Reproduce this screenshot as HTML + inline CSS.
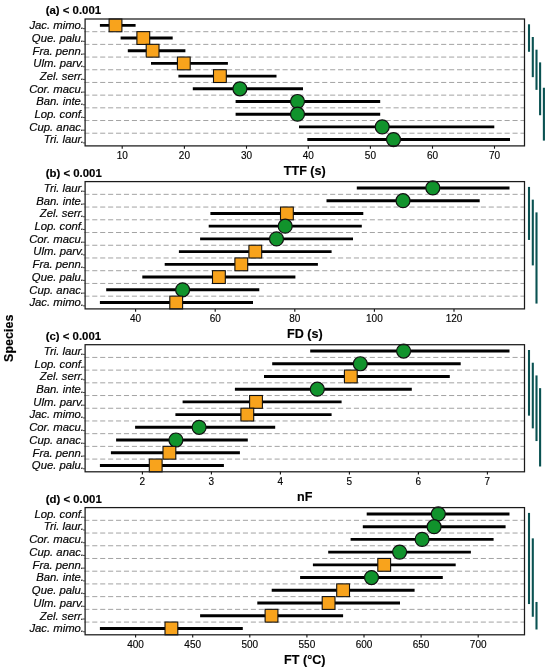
<!DOCTYPE html><html><head><meta charset="utf-8"><style>html,body{margin:0;padding:0;background:#fff}svg{display:block;will-change:transform}text{font-family:"Liberation Sans",sans-serif;fill:#000}</style></head><body>
<svg width="550" height="671" viewBox="0 0 550 671">
<rect width="550" height="671" fill="#fff"/>
<line x1="84.3" y1="31.69" x2="524.5" y2="31.69" stroke="#a3a3a3" stroke-width="1" stroke-dasharray="5.1 2.83"/>
<line x1="84.3" y1="44.38" x2="524.5" y2="44.38" stroke="#a3a3a3" stroke-width="1" stroke-dasharray="5.1 2.83"/>
<line x1="84.3" y1="57.07" x2="524.5" y2="57.07" stroke="#a3a3a3" stroke-width="1" stroke-dasharray="5.1 2.83"/>
<line x1="84.3" y1="69.76" x2="524.5" y2="69.76" stroke="#a3a3a3" stroke-width="1" stroke-dasharray="5.1 2.83"/>
<line x1="84.3" y1="82.45" x2="524.5" y2="82.45" stroke="#a3a3a3" stroke-width="1" stroke-dasharray="5.1 2.83"/>
<line x1="84.3" y1="95.14" x2="524.5" y2="95.14" stroke="#a3a3a3" stroke-width="1" stroke-dasharray="5.1 2.83"/>
<line x1="84.3" y1="107.83" x2="524.5" y2="107.83" stroke="#a3a3a3" stroke-width="1" stroke-dasharray="5.1 2.83"/>
<line x1="84.3" y1="120.52" x2="524.5" y2="120.52" stroke="#a3a3a3" stroke-width="1" stroke-dasharray="5.1 2.83"/>
<line x1="84.3" y1="133.21" x2="524.5" y2="133.21" stroke="#a3a3a3" stroke-width="1" stroke-dasharray="5.1 2.83"/>
<line x1="99.9" y1="25.34" x2="135.6" y2="25.34" stroke="#000" stroke-width="2.9"/>
<line x1="120.6" y1="38.04" x2="172.7" y2="38.04" stroke="#000" stroke-width="2.9"/>
<line x1="127.8" y1="50.73" x2="185.4" y2="50.73" stroke="#000" stroke-width="2.9"/>
<line x1="151" y1="63.42" x2="227.9" y2="63.42" stroke="#000" stroke-width="2.9"/>
<line x1="178.4" y1="76.11" x2="276.5" y2="76.11" stroke="#000" stroke-width="2.9"/>
<line x1="192.8" y1="88.8" x2="303" y2="88.8" stroke="#000" stroke-width="2.9"/>
<line x1="235.6" y1="101.49" x2="380.2" y2="101.49" stroke="#000" stroke-width="2.9"/>
<line x1="235.6" y1="114.18" x2="380.2" y2="114.18" stroke="#000" stroke-width="2.9"/>
<line x1="299" y1="126.87" x2="494.3" y2="126.87" stroke="#000" stroke-width="2.9"/>
<line x1="307.3" y1="139.56" x2="510" y2="139.56" stroke="#000" stroke-width="2.9"/>
<rect x="109.1" y="18.95" width="12.8" height="12.8" fill="#f8a31c" stroke="#111" stroke-width="1.1"/>
<rect x="136.9" y="31.64" width="12.8" height="12.8" fill="#f8a31c" stroke="#111" stroke-width="1.1"/>
<rect x="146.2" y="44.33" width="12.8" height="12.8" fill="#f8a31c" stroke="#111" stroke-width="1.1"/>
<rect x="177.4" y="57.02" width="12.8" height="12.8" fill="#f8a31c" stroke="#111" stroke-width="1.1"/>
<rect x="213.5" y="69.7" width="12.8" height="12.8" fill="#f8a31c" stroke="#111" stroke-width="1.1"/>
<circle cx="239.9" cy="88.8" r="7" fill="#11932c" stroke="#111" stroke-width="1.2"/>
<circle cx="297.5" cy="101.49" r="7" fill="#11932c" stroke="#111" stroke-width="1.2"/>
<circle cx="297.5" cy="114.18" r="7" fill="#11932c" stroke="#111" stroke-width="1.2"/>
<circle cx="382.2" cy="126.87" r="7" fill="#11932c" stroke="#111" stroke-width="1.2"/>
<circle cx="393.5" cy="139.56" r="7" fill="#11932c" stroke="#111" stroke-width="1.2"/>
<rect x="85.1" y="19" width="439.4" height="126.9" fill="none" stroke="#1a1a1a" stroke-width="1.25"/>
<line x1="122.2" y1="145.9" x2="122.2" y2="148.7" stroke="#111" stroke-width="1.1"/>
<text x="122.2" y="159" font-size="10" text-anchor="middle" fill="#111" stroke="#111" stroke-width="0.15">10</text>
<line x1="184.4" y1="145.9" x2="184.4" y2="148.7" stroke="#111" stroke-width="1.1"/>
<text x="184.4" y="159" font-size="10" text-anchor="middle" fill="#111" stroke="#111" stroke-width="0.15">20</text>
<line x1="246.5" y1="145.9" x2="246.5" y2="148.7" stroke="#111" stroke-width="1.1"/>
<text x="246.5" y="159" font-size="10" text-anchor="middle" fill="#111" stroke="#111" stroke-width="0.15">30</text>
<line x1="308.3" y1="145.9" x2="308.3" y2="148.7" stroke="#111" stroke-width="1.1"/>
<text x="308.3" y="159" font-size="10" text-anchor="middle" fill="#111" stroke="#111" stroke-width="0.15">40</text>
<line x1="370.4" y1="145.9" x2="370.4" y2="148.7" stroke="#111" stroke-width="1.1"/>
<text x="370.4" y="159" font-size="10" text-anchor="middle" fill="#111" stroke="#111" stroke-width="0.15">50</text>
<line x1="432.5" y1="145.9" x2="432.5" y2="148.7" stroke="#111" stroke-width="1.1"/>
<text x="432.5" y="159" font-size="10" text-anchor="middle" fill="#111" stroke="#111" stroke-width="0.15">60</text>
<line x1="494.5" y1="145.9" x2="494.5" y2="148.7" stroke="#111" stroke-width="1.1"/>
<text x="494.5" y="159" font-size="10" text-anchor="middle" fill="#111" stroke="#111" stroke-width="0.15">70</text>
<text x="84.0" y="29.14" font-size="11.3" font-style="italic" text-anchor="end" fill="#111" stroke="#111" stroke-width="0.2">Jac. mimo.</text>
<line x1="83.0" y1="28.64" x2="85" y2="28.64" stroke="#333" stroke-width="0.9"/>
<text x="84.0" y="41.84" font-size="11.3" font-style="italic" text-anchor="end" fill="#111" stroke="#111" stroke-width="0.2">Que. palu.</text>
<line x1="83.0" y1="41.34" x2="85" y2="41.34" stroke="#333" stroke-width="0.9"/>
<text x="84.0" y="54.52" font-size="11.3" font-style="italic" text-anchor="end" fill="#111" stroke="#111" stroke-width="0.2">Fra. penn.</text>
<line x1="83.0" y1="54.02" x2="85" y2="54.02" stroke="#333" stroke-width="0.9"/>
<text x="84.0" y="67.22" font-size="11.3" font-style="italic" text-anchor="end" fill="#111" stroke="#111" stroke-width="0.2">Ulm. parv.</text>
<line x1="83.0" y1="66.72" x2="85" y2="66.72" stroke="#333" stroke-width="0.9"/>
<text x="84.0" y="79.91" font-size="11.3" font-style="italic" text-anchor="end" fill="#111" stroke="#111" stroke-width="0.2">Zel. serr.</text>
<line x1="83.0" y1="79.41" x2="85" y2="79.41" stroke="#333" stroke-width="0.9"/>
<text x="84.0" y="92.59" font-size="11.3" font-style="italic" text-anchor="end" fill="#111" stroke="#111" stroke-width="0.2">Cor. macu.</text>
<line x1="83.0" y1="92.09" x2="85" y2="92.09" stroke="#333" stroke-width="0.9"/>
<text x="84.0" y="105.29" font-size="11.3" font-style="italic" text-anchor="end" fill="#111" stroke="#111" stroke-width="0.2">Ban. inte.</text>
<line x1="83.0" y1="104.79" x2="85" y2="104.79" stroke="#333" stroke-width="0.9"/>
<text x="84.0" y="117.98" font-size="11.3" font-style="italic" text-anchor="end" fill="#111" stroke="#111" stroke-width="0.2">Lop. conf.</text>
<line x1="83.0" y1="117.48" x2="85" y2="117.48" stroke="#333" stroke-width="0.9"/>
<text x="84.0" y="130.67" font-size="11.3" font-style="italic" text-anchor="end" fill="#111" stroke="#111" stroke-width="0.2">Cup. anac.</text>
<line x1="83.0" y1="130.17" x2="85" y2="130.17" stroke="#333" stroke-width="0.9"/>
<text x="84.0" y="143.36" font-size="11.3" font-style="italic" text-anchor="end" fill="#111" stroke="#111" stroke-width="0.2">Tri. laur.</text>
<line x1="83.0" y1="142.86" x2="85" y2="142.86" stroke="#333" stroke-width="0.9"/>
<text x="45.7" y="14.3" font-size="11.4" font-weight="bold" stroke="#000" stroke-width="0.15">(a) &lt; 0.001</text>
<text x="304.8" y="175.1" font-size="12.6" font-weight="bold" text-anchor="middle" stroke="#000" stroke-width="0.15">TTF (s)</text>
<line x1="529" y1="25.34" x2="529" y2="50.73" stroke="#0a5252" stroke-width="2.1" stroke-linecap="square"/>
<line x1="532.8" y1="38.04" x2="532.8" y2="76.11" stroke="#0a5252" stroke-width="2.1" stroke-linecap="square"/>
<line x1="536.5" y1="50.73" x2="536.5" y2="88.8" stroke="#0a5252" stroke-width="2.1" stroke-linecap="square"/>
<line x1="540.1" y1="63.42" x2="540.1" y2="114.18" stroke="#0a5252" stroke-width="2.1" stroke-linecap="square"/>
<line x1="543.9" y1="88.8" x2="543.9" y2="139.56" stroke="#0a5252" stroke-width="2.1" stroke-linecap="square"/>
<line x1="84.3" y1="194.33" x2="524.5" y2="194.33" stroke="#a3a3a3" stroke-width="1" stroke-dasharray="5.1 2.83"/>
<line x1="84.3" y1="207.06" x2="524.5" y2="207.06" stroke="#a3a3a3" stroke-width="1" stroke-dasharray="5.1 2.83"/>
<line x1="84.3" y1="219.79" x2="524.5" y2="219.79" stroke="#a3a3a3" stroke-width="1" stroke-dasharray="5.1 2.83"/>
<line x1="84.3" y1="232.52" x2="524.5" y2="232.52" stroke="#a3a3a3" stroke-width="1" stroke-dasharray="5.1 2.83"/>
<line x1="84.3" y1="245.25" x2="524.5" y2="245.25" stroke="#a3a3a3" stroke-width="1" stroke-dasharray="5.1 2.83"/>
<line x1="84.3" y1="257.98" x2="524.5" y2="257.98" stroke="#a3a3a3" stroke-width="1" stroke-dasharray="5.1 2.83"/>
<line x1="84.3" y1="270.71" x2="524.5" y2="270.71" stroke="#a3a3a3" stroke-width="1" stroke-dasharray="5.1 2.83"/>
<line x1="84.3" y1="283.44" x2="524.5" y2="283.44" stroke="#a3a3a3" stroke-width="1" stroke-dasharray="5.1 2.83"/>
<line x1="84.3" y1="296.17" x2="524.5" y2="296.17" stroke="#a3a3a3" stroke-width="1" stroke-dasharray="5.1 2.83"/>
<line x1="356.8" y1="187.97" x2="509.5" y2="187.97" stroke="#000" stroke-width="2.9"/>
<line x1="326.5" y1="200.69" x2="479.7" y2="200.69" stroke="#000" stroke-width="2.9"/>
<line x1="210.4" y1="213.43" x2="363.3" y2="213.43" stroke="#000" stroke-width="2.9"/>
<line x1="208.7" y1="226.16" x2="361.8" y2="226.16" stroke="#000" stroke-width="2.9"/>
<line x1="200.1" y1="238.88" x2="353" y2="238.88" stroke="#000" stroke-width="2.9"/>
<line x1="178.9" y1="251.62" x2="331.6" y2="251.62" stroke="#000" stroke-width="2.9"/>
<line x1="164.7" y1="264.35" x2="317.9" y2="264.35" stroke="#000" stroke-width="2.9"/>
<line x1="142.3" y1="277.07" x2="295.4" y2="277.07" stroke="#000" stroke-width="2.9"/>
<line x1="106.2" y1="289.81" x2="259.3" y2="289.81" stroke="#000" stroke-width="2.9"/>
<line x1="99.9" y1="302.53" x2="253" y2="302.53" stroke="#000" stroke-width="2.9"/>
<circle cx="432.8" cy="187.97" r="7" fill="#11932c" stroke="#111" stroke-width="1.2"/>
<circle cx="403" cy="200.69" r="7" fill="#11932c" stroke="#111" stroke-width="1.2"/>
<rect x="280.5" y="207.03" width="12.8" height="12.8" fill="#f8a31c" stroke="#111" stroke-width="1.1"/>
<circle cx="285.2" cy="226.16" r="7" fill="#11932c" stroke="#111" stroke-width="1.2"/>
<circle cx="276.5" cy="238.88" r="7" fill="#11932c" stroke="#111" stroke-width="1.2"/>
<rect x="248.9" y="245.22" width="12.8" height="12.8" fill="#f8a31c" stroke="#111" stroke-width="1.1"/>
<rect x="234.9" y="257.95" width="12.8" height="12.8" fill="#f8a31c" stroke="#111" stroke-width="1.1"/>
<rect x="212.5" y="270.68" width="12.8" height="12.8" fill="#f8a31c" stroke="#111" stroke-width="1.1"/>
<circle cx="182.6" cy="289.81" r="7" fill="#11932c" stroke="#111" stroke-width="1.2"/>
<rect x="169.8" y="296.13" width="12.8" height="12.8" fill="#f8a31c" stroke="#111" stroke-width="1.1"/>
<rect x="85.1" y="181.6" width="439.4" height="127.3" fill="none" stroke="#1a1a1a" stroke-width="1.25"/>
<line x1="135.6" y1="308.9" x2="135.6" y2="311.7" stroke="#111" stroke-width="1.1"/>
<text x="135.6" y="322" font-size="10" text-anchor="middle" fill="#111" stroke="#111" stroke-width="0.15">40</text>
<line x1="215.2" y1="308.9" x2="215.2" y2="311.7" stroke="#111" stroke-width="1.1"/>
<text x="215.2" y="322" font-size="10" text-anchor="middle" fill="#111" stroke="#111" stroke-width="0.15">60</text>
<line x1="294.8" y1="308.9" x2="294.8" y2="311.7" stroke="#111" stroke-width="1.1"/>
<text x="294.8" y="322" font-size="10" text-anchor="middle" fill="#111" stroke="#111" stroke-width="0.15">80</text>
<line x1="374.4" y1="308.9" x2="374.4" y2="311.7" stroke="#111" stroke-width="1.1"/>
<text x="374.4" y="322" font-size="10" text-anchor="middle" fill="#111" stroke="#111" stroke-width="0.15">100</text>
<line x1="454" y1="308.9" x2="454" y2="311.7" stroke="#111" stroke-width="1.1"/>
<text x="454" y="322" font-size="10" text-anchor="middle" fill="#111" stroke="#111" stroke-width="0.15">120</text>
<text x="84.0" y="191.77" font-size="11.3" font-style="italic" text-anchor="end" fill="#111" stroke="#111" stroke-width="0.2">Tri. laur.</text>
<line x1="83.0" y1="191.27" x2="85" y2="191.27" stroke="#333" stroke-width="0.9"/>
<text x="84.0" y="204.5" font-size="11.3" font-style="italic" text-anchor="end" fill="#111" stroke="#111" stroke-width="0.2">Ban. inte.</text>
<line x1="83.0" y1="204" x2="85" y2="204" stroke="#333" stroke-width="0.9"/>
<text x="84.0" y="217.23" font-size="11.3" font-style="italic" text-anchor="end" fill="#111" stroke="#111" stroke-width="0.2">Zel. serr.</text>
<line x1="83.0" y1="216.73" x2="85" y2="216.73" stroke="#333" stroke-width="0.9"/>
<text x="84.0" y="229.96" font-size="11.3" font-style="italic" text-anchor="end" fill="#111" stroke="#111" stroke-width="0.2">Lop. conf.</text>
<line x1="83.0" y1="229.46" x2="85" y2="229.46" stroke="#333" stroke-width="0.9"/>
<text x="84.0" y="242.69" font-size="11.3" font-style="italic" text-anchor="end" fill="#111" stroke="#111" stroke-width="0.2">Cor. macu.</text>
<line x1="83.0" y1="242.19" x2="85" y2="242.19" stroke="#333" stroke-width="0.9"/>
<text x="84.0" y="255.42" font-size="11.3" font-style="italic" text-anchor="end" fill="#111" stroke="#111" stroke-width="0.2">Ulm. parv.</text>
<line x1="83.0" y1="254.92" x2="85" y2="254.92" stroke="#333" stroke-width="0.9"/>
<text x="84.0" y="268.15" font-size="11.3" font-style="italic" text-anchor="end" fill="#111" stroke="#111" stroke-width="0.2">Fra. penn.</text>
<line x1="83.0" y1="267.65" x2="85" y2="267.65" stroke="#333" stroke-width="0.9"/>
<text x="84.0" y="280.88" font-size="11.3" font-style="italic" text-anchor="end" fill="#111" stroke="#111" stroke-width="0.2">Que. palu.</text>
<line x1="83.0" y1="280.38" x2="85" y2="280.38" stroke="#333" stroke-width="0.9"/>
<text x="84.0" y="293.61" font-size="11.3" font-style="italic" text-anchor="end" fill="#111" stroke="#111" stroke-width="0.2">Cup. anac.</text>
<line x1="83.0" y1="293.11" x2="85" y2="293.11" stroke="#333" stroke-width="0.9"/>
<text x="84.0" y="306.33" font-size="11.3" font-style="italic" text-anchor="end" fill="#111" stroke="#111" stroke-width="0.2">Jac. mimo.</text>
<line x1="83.0" y1="305.83" x2="85" y2="305.83" stroke="#333" stroke-width="0.9"/>
<text x="45.7" y="176.9" font-size="11.4" font-weight="bold" stroke="#000" stroke-width="0.15">(b) &lt; 0.001</text>
<text x="304.8" y="338.1" font-size="12.6" font-weight="bold" text-anchor="middle" stroke="#000" stroke-width="0.15">FD (s)</text>
<line x1="529" y1="187.97" x2="529" y2="238.88" stroke="#0a5252" stroke-width="2.1" stroke-linecap="square"/>
<line x1="532.8" y1="200.69" x2="532.8" y2="264.35" stroke="#0a5252" stroke-width="2.1" stroke-linecap="square"/>
<line x1="536.5" y1="213.43" x2="536.5" y2="302.53" stroke="#0a5252" stroke-width="2.1" stroke-linecap="square"/>
<line x1="84.3" y1="357.41" x2="524.5" y2="357.41" stroke="#a3a3a3" stroke-width="1" stroke-dasharray="5.1 2.83"/>
<line x1="84.3" y1="370.12" x2="524.5" y2="370.12" stroke="#a3a3a3" stroke-width="1" stroke-dasharray="5.1 2.83"/>
<line x1="84.3" y1="382.83" x2="524.5" y2="382.83" stroke="#a3a3a3" stroke-width="1" stroke-dasharray="5.1 2.83"/>
<line x1="84.3" y1="395.54" x2="524.5" y2="395.54" stroke="#a3a3a3" stroke-width="1" stroke-dasharray="5.1 2.83"/>
<line x1="84.3" y1="408.25" x2="524.5" y2="408.25" stroke="#a3a3a3" stroke-width="1" stroke-dasharray="5.1 2.83"/>
<line x1="84.3" y1="420.96" x2="524.5" y2="420.96" stroke="#a3a3a3" stroke-width="1" stroke-dasharray="5.1 2.83"/>
<line x1="84.3" y1="433.67" x2="524.5" y2="433.67" stroke="#a3a3a3" stroke-width="1" stroke-dasharray="5.1 2.83"/>
<line x1="84.3" y1="446.38" x2="524.5" y2="446.38" stroke="#a3a3a3" stroke-width="1" stroke-dasharray="5.1 2.83"/>
<line x1="84.3" y1="459.09" x2="524.5" y2="459.09" stroke="#a3a3a3" stroke-width="1" stroke-dasharray="5.1 2.83"/>
<line x1="310.2" y1="351.06" x2="509.5" y2="351.06" stroke="#000" stroke-width="2.9"/>
<line x1="272.2" y1="363.76" x2="460.7" y2="363.76" stroke="#000" stroke-width="2.9"/>
<line x1="264" y1="376.47" x2="449.8" y2="376.47" stroke="#000" stroke-width="2.9"/>
<line x1="234.9" y1="389.19" x2="411.8" y2="389.19" stroke="#000" stroke-width="2.9"/>
<line x1="182.6" y1="401.89" x2="341.6" y2="401.89" stroke="#000" stroke-width="2.9"/>
<line x1="175.4" y1="414.61" x2="331.6" y2="414.61" stroke="#000" stroke-width="2.9"/>
<line x1="135.1" y1="427.31" x2="275.2" y2="427.31" stroke="#000" stroke-width="2.9"/>
<line x1="116.1" y1="440.02" x2="247.8" y2="440.02" stroke="#000" stroke-width="2.9"/>
<line x1="110.9" y1="452.74" x2="239.9" y2="452.74" stroke="#000" stroke-width="2.9"/>
<line x1="99.9" y1="465.44" x2="223.9" y2="465.44" stroke="#000" stroke-width="2.9"/>
<circle cx="403.6" cy="351.06" r="7" fill="#11932c" stroke="#111" stroke-width="1.2"/>
<circle cx="360.3" cy="363.76" r="7" fill="#11932c" stroke="#111" stroke-width="1.2"/>
<rect x="344.4" y="370.07" width="12.8" height="12.8" fill="#f8a31c" stroke="#111" stroke-width="1.1"/>
<circle cx="317.3" cy="389.19" r="7" fill="#11932c" stroke="#111" stroke-width="1.2"/>
<rect x="249.6" y="395.5" width="12.8" height="12.8" fill="#f8a31c" stroke="#111" stroke-width="1.1"/>
<rect x="240.9" y="408.21" width="12.8" height="12.8" fill="#f8a31c" stroke="#111" stroke-width="1.1"/>
<circle cx="199.1" cy="427.31" r="7" fill="#11932c" stroke="#111" stroke-width="1.2"/>
<circle cx="175.9" cy="440.02" r="7" fill="#11932c" stroke="#111" stroke-width="1.2"/>
<rect x="163" y="446.34" width="12.8" height="12.8" fill="#f8a31c" stroke="#111" stroke-width="1.1"/>
<rect x="149.3" y="459.05" width="12.8" height="12.8" fill="#f8a31c" stroke="#111" stroke-width="1.1"/>
<rect x="85.1" y="344.7" width="439.4" height="127.1" fill="none" stroke="#1a1a1a" stroke-width="1.25"/>
<line x1="142.4" y1="471.8" x2="142.4" y2="474.6" stroke="#111" stroke-width="1.1"/>
<text x="142.4" y="484.9" font-size="10" text-anchor="middle" fill="#111" stroke="#111" stroke-width="0.15">2</text>
<line x1="211.4" y1="471.8" x2="211.4" y2="474.6" stroke="#111" stroke-width="1.1"/>
<text x="211.4" y="484.9" font-size="10" text-anchor="middle" fill="#111" stroke="#111" stroke-width="0.15">3</text>
<line x1="280.4" y1="471.8" x2="280.4" y2="474.6" stroke="#111" stroke-width="1.1"/>
<text x="280.4" y="484.9" font-size="10" text-anchor="middle" fill="#111" stroke="#111" stroke-width="0.15">4</text>
<line x1="349.4" y1="471.8" x2="349.4" y2="474.6" stroke="#111" stroke-width="1.1"/>
<text x="349.4" y="484.9" font-size="10" text-anchor="middle" fill="#111" stroke="#111" stroke-width="0.15">5</text>
<line x1="418.4" y1="471.8" x2="418.4" y2="474.6" stroke="#111" stroke-width="1.1"/>
<text x="418.4" y="484.9" font-size="10" text-anchor="middle" fill="#111" stroke="#111" stroke-width="0.15">6</text>
<line x1="487.4" y1="471.8" x2="487.4" y2="474.6" stroke="#111" stroke-width="1.1"/>
<text x="487.4" y="484.9" font-size="10" text-anchor="middle" fill="#111" stroke="#111" stroke-width="0.15">7</text>
<text x="84.0" y="354.86" font-size="11.3" font-style="italic" text-anchor="end" fill="#111" stroke="#111" stroke-width="0.2">Tri. laur.</text>
<line x1="83.0" y1="354.36" x2="85" y2="354.36" stroke="#333" stroke-width="0.9"/>
<text x="84.0" y="367.56" font-size="11.3" font-style="italic" text-anchor="end" fill="#111" stroke="#111" stroke-width="0.2">Lop. conf.</text>
<line x1="83.0" y1="367.06" x2="85" y2="367.06" stroke="#333" stroke-width="0.9"/>
<text x="84.0" y="380.27" font-size="11.3" font-style="italic" text-anchor="end" fill="#111" stroke="#111" stroke-width="0.2">Zel. serr.</text>
<line x1="83.0" y1="379.77" x2="85" y2="379.77" stroke="#333" stroke-width="0.9"/>
<text x="84.0" y="392.99" font-size="11.3" font-style="italic" text-anchor="end" fill="#111" stroke="#111" stroke-width="0.2">Ban. inte.</text>
<line x1="83.0" y1="392.49" x2="85" y2="392.49" stroke="#333" stroke-width="0.9"/>
<text x="84.0" y="405.69" font-size="11.3" font-style="italic" text-anchor="end" fill="#111" stroke="#111" stroke-width="0.2">Ulm. parv.</text>
<line x1="83.0" y1="405.19" x2="85" y2="405.19" stroke="#333" stroke-width="0.9"/>
<text x="84.0" y="418.41" font-size="11.3" font-style="italic" text-anchor="end" fill="#111" stroke="#111" stroke-width="0.2">Jac. mimo.</text>
<line x1="83.0" y1="417.91" x2="85" y2="417.91" stroke="#333" stroke-width="0.9"/>
<text x="84.0" y="431.12" font-size="11.3" font-style="italic" text-anchor="end" fill="#111" stroke="#111" stroke-width="0.2">Cor. macu.</text>
<line x1="83.0" y1="430.62" x2="85" y2="430.62" stroke="#333" stroke-width="0.9"/>
<text x="84.0" y="443.82" font-size="11.3" font-style="italic" text-anchor="end" fill="#111" stroke="#111" stroke-width="0.2">Cup. anac.</text>
<line x1="83.0" y1="443.32" x2="85" y2="443.32" stroke="#333" stroke-width="0.9"/>
<text x="84.0" y="456.54" font-size="11.3" font-style="italic" text-anchor="end" fill="#111" stroke="#111" stroke-width="0.2">Fra. penn.</text>
<line x1="83.0" y1="456.04" x2="85" y2="456.04" stroke="#333" stroke-width="0.9"/>
<text x="84.0" y="469.25" font-size="11.3" font-style="italic" text-anchor="end" fill="#111" stroke="#111" stroke-width="0.2">Que. palu.</text>
<line x1="83.0" y1="468.75" x2="85" y2="468.75" stroke="#333" stroke-width="0.9"/>
<text x="45.7" y="340" font-size="11.4" font-weight="bold" stroke="#000" stroke-width="0.15">(c) &lt; 0.001</text>
<text x="304.8" y="501" font-size="12.6" font-weight="bold" text-anchor="middle" stroke="#000" stroke-width="0.15">nF</text>
<line x1="529" y1="351.06" x2="529" y2="414.61" stroke="#0a5252" stroke-width="2.1" stroke-linecap="square"/>
<line x1="532.8" y1="363.76" x2="532.8" y2="427.31" stroke="#0a5252" stroke-width="2.1" stroke-linecap="square"/>
<line x1="536.5" y1="376.47" x2="536.5" y2="440.02" stroke="#0a5252" stroke-width="2.1" stroke-linecap="square"/>
<line x1="540.1" y1="389.19" x2="540.1" y2="465.44" stroke="#0a5252" stroke-width="2.1" stroke-linecap="square"/>
<line x1="84.3" y1="520.32" x2="524.5" y2="520.32" stroke="#a3a3a3" stroke-width="1" stroke-dasharray="5.1 2.83"/>
<line x1="84.3" y1="533.04" x2="524.5" y2="533.04" stroke="#a3a3a3" stroke-width="1" stroke-dasharray="5.1 2.83"/>
<line x1="84.3" y1="545.76" x2="524.5" y2="545.76" stroke="#a3a3a3" stroke-width="1" stroke-dasharray="5.1 2.83"/>
<line x1="84.3" y1="558.48" x2="524.5" y2="558.48" stroke="#a3a3a3" stroke-width="1" stroke-dasharray="5.1 2.83"/>
<line x1="84.3" y1="571.2" x2="524.5" y2="571.2" stroke="#a3a3a3" stroke-width="1" stroke-dasharray="5.1 2.83"/>
<line x1="84.3" y1="583.92" x2="524.5" y2="583.92" stroke="#a3a3a3" stroke-width="1" stroke-dasharray="5.1 2.83"/>
<line x1="84.3" y1="596.64" x2="524.5" y2="596.64" stroke="#a3a3a3" stroke-width="1" stroke-dasharray="5.1 2.83"/>
<line x1="84.3" y1="609.36" x2="524.5" y2="609.36" stroke="#a3a3a3" stroke-width="1" stroke-dasharray="5.1 2.83"/>
<line x1="84.3" y1="622.08" x2="524.5" y2="622.08" stroke="#a3a3a3" stroke-width="1" stroke-dasharray="5.1 2.83"/>
<line x1="366.7" y1="513.96" x2="509.5" y2="513.96" stroke="#000" stroke-width="2.9"/>
<line x1="362.8" y1="526.68" x2="505.6" y2="526.68" stroke="#000" stroke-width="2.9"/>
<line x1="350.6" y1="539.4" x2="493.6" y2="539.4" stroke="#000" stroke-width="2.9"/>
<line x1="328.2" y1="552.12" x2="470.9" y2="552.12" stroke="#000" stroke-width="2.9"/>
<line x1="312.9" y1="564.84" x2="455.7" y2="564.84" stroke="#000" stroke-width="2.9"/>
<line x1="300.1" y1="577.56" x2="442.8" y2="577.56" stroke="#000" stroke-width="2.9"/>
<line x1="271.7" y1="590.28" x2="414.6" y2="590.28" stroke="#000" stroke-width="2.9"/>
<line x1="257.3" y1="603" x2="400" y2="603" stroke="#000" stroke-width="2.9"/>
<line x1="200.1" y1="615.72" x2="343.1" y2="615.72" stroke="#000" stroke-width="2.9"/>
<line x1="99.9" y1="628.44" x2="242.8" y2="628.44" stroke="#000" stroke-width="2.9"/>
<circle cx="438.3" cy="513.96" r="7" fill="#11932c" stroke="#111" stroke-width="1.2"/>
<circle cx="434.1" cy="526.68" r="7" fill="#11932c" stroke="#111" stroke-width="1.2"/>
<circle cx="422.1" cy="539.4" r="7" fill="#11932c" stroke="#111" stroke-width="1.2"/>
<circle cx="399.6" cy="552.12" r="7" fill="#11932c" stroke="#111" stroke-width="1.2"/>
<rect x="377.8" y="558.44" width="12.8" height="12.8" fill="#f8a31c" stroke="#111" stroke-width="1.1"/>
<circle cx="371.5" cy="577.56" r="7" fill="#11932c" stroke="#111" stroke-width="1.2"/>
<rect x="336.7" y="583.88" width="12.8" height="12.8" fill="#f8a31c" stroke="#111" stroke-width="1.1"/>
<rect x="322.2" y="596.6" width="12.8" height="12.8" fill="#f8a31c" stroke="#111" stroke-width="1.1"/>
<rect x="265.1" y="609.32" width="12.8" height="12.8" fill="#f8a31c" stroke="#111" stroke-width="1.1"/>
<rect x="165" y="622.04" width="12.8" height="12.8" fill="#f8a31c" stroke="#111" stroke-width="1.1"/>
<rect x="85.1" y="507.6" width="439.4" height="127.2" fill="none" stroke="#1a1a1a" stroke-width="1.25"/>
<line x1="135.6" y1="634.8" x2="135.6" y2="637.6" stroke="#111" stroke-width="1.1"/>
<text x="135.6" y="647.9" font-size="10" text-anchor="middle" fill="#111" stroke="#111" stroke-width="0.15">400</text>
<line x1="192.7" y1="634.8" x2="192.7" y2="637.6" stroke="#111" stroke-width="1.1"/>
<text x="192.7" y="647.9" font-size="10" text-anchor="middle" fill="#111" stroke="#111" stroke-width="0.15">450</text>
<line x1="249.8" y1="634.8" x2="249.8" y2="637.6" stroke="#111" stroke-width="1.1"/>
<text x="249.8" y="647.9" font-size="10" text-anchor="middle" fill="#111" stroke="#111" stroke-width="0.15">500</text>
<line x1="306.9" y1="634.8" x2="306.9" y2="637.6" stroke="#111" stroke-width="1.1"/>
<text x="306.9" y="647.9" font-size="10" text-anchor="middle" fill="#111" stroke="#111" stroke-width="0.15">550</text>
<line x1="364" y1="634.8" x2="364" y2="637.6" stroke="#111" stroke-width="1.1"/>
<text x="364" y="647.9" font-size="10" text-anchor="middle" fill="#111" stroke="#111" stroke-width="0.15">600</text>
<line x1="421.1" y1="634.8" x2="421.1" y2="637.6" stroke="#111" stroke-width="1.1"/>
<text x="421.1" y="647.9" font-size="10" text-anchor="middle" fill="#111" stroke="#111" stroke-width="0.15">650</text>
<line x1="478.2" y1="634.8" x2="478.2" y2="637.6" stroke="#111" stroke-width="1.1"/>
<text x="478.2" y="647.9" font-size="10" text-anchor="middle" fill="#111" stroke="#111" stroke-width="0.15">700</text>
<text x="84.0" y="517.76" font-size="11.3" font-style="italic" text-anchor="end" fill="#111" stroke="#111" stroke-width="0.2">Lop. conf.</text>
<line x1="83.0" y1="517.26" x2="85" y2="517.26" stroke="#333" stroke-width="0.9"/>
<text x="84.0" y="530.48" font-size="11.3" font-style="italic" text-anchor="end" fill="#111" stroke="#111" stroke-width="0.2">Tri. laur.</text>
<line x1="83.0" y1="529.98" x2="85" y2="529.98" stroke="#333" stroke-width="0.9"/>
<text x="84.0" y="543.2" font-size="11.3" font-style="italic" text-anchor="end" fill="#111" stroke="#111" stroke-width="0.2">Cor. macu.</text>
<line x1="83.0" y1="542.7" x2="85" y2="542.7" stroke="#333" stroke-width="0.9"/>
<text x="84.0" y="555.92" font-size="11.3" font-style="italic" text-anchor="end" fill="#111" stroke="#111" stroke-width="0.2">Cup. anac.</text>
<line x1="83.0" y1="555.42" x2="85" y2="555.42" stroke="#333" stroke-width="0.9"/>
<text x="84.0" y="568.64" font-size="11.3" font-style="italic" text-anchor="end" fill="#111" stroke="#111" stroke-width="0.2">Fra. penn.</text>
<line x1="83.0" y1="568.14" x2="85" y2="568.14" stroke="#333" stroke-width="0.9"/>
<text x="84.0" y="581.36" font-size="11.3" font-style="italic" text-anchor="end" fill="#111" stroke="#111" stroke-width="0.2">Ban. inte.</text>
<line x1="83.0" y1="580.86" x2="85" y2="580.86" stroke="#333" stroke-width="0.9"/>
<text x="84.0" y="594.08" font-size="11.3" font-style="italic" text-anchor="end" fill="#111" stroke="#111" stroke-width="0.2">Que. palu.</text>
<line x1="83.0" y1="593.58" x2="85" y2="593.58" stroke="#333" stroke-width="0.9"/>
<text x="84.0" y="606.8" font-size="11.3" font-style="italic" text-anchor="end" fill="#111" stroke="#111" stroke-width="0.2">Ulm. parv.</text>
<line x1="83.0" y1="606.3" x2="85" y2="606.3" stroke="#333" stroke-width="0.9"/>
<text x="84.0" y="619.52" font-size="11.3" font-style="italic" text-anchor="end" fill="#111" stroke="#111" stroke-width="0.2">Zel. serr.</text>
<line x1="83.0" y1="619.02" x2="85" y2="619.02" stroke="#333" stroke-width="0.9"/>
<text x="84.0" y="632.24" font-size="11.3" font-style="italic" text-anchor="end" fill="#111" stroke="#111" stroke-width="0.2">Jac. mimo.</text>
<line x1="83.0" y1="631.74" x2="85" y2="631.74" stroke="#333" stroke-width="0.9"/>
<text x="45.7" y="502.9" font-size="11.4" font-weight="bold" stroke="#000" stroke-width="0.15">(d) &lt; 0.001</text>
<text x="304.8" y="664" font-size="12.6" font-weight="bold" text-anchor="middle" stroke="#000" stroke-width="0.15">FT (°C)</text>
<line x1="529" y1="513.96" x2="529" y2="603" stroke="#0a5252" stroke-width="2.1" stroke-linecap="square"/>
<line x1="532.8" y1="539.4" x2="532.8" y2="615.72" stroke="#0a5252" stroke-width="2.1" stroke-linecap="square"/>
<line x1="536.5" y1="603" x2="536.5" y2="628.44" stroke="#0a5252" stroke-width="2.1" stroke-linecap="square"/>
<text transform="translate(13.1,338.3) rotate(-90)" font-size="12.5" font-weight="bold" text-anchor="middle" stroke="#000" stroke-width="0.15">Species</text>
</svg></body></html>
